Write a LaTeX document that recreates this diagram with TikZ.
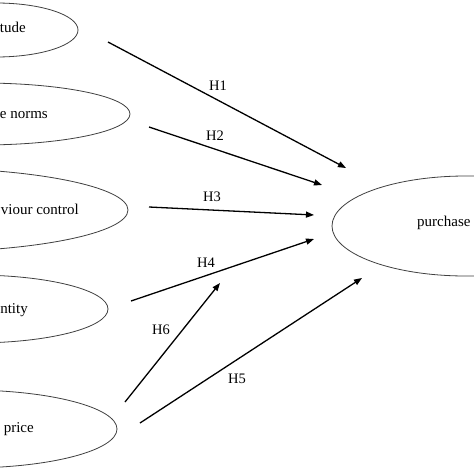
\documentclass[tikz,border=0pt]{standalone}
\usepackage{fontspec}
\setmainfont{Liberation Serif}
\usetikzlibrary{shapes.geometric,arrows.meta}
\begin{document}
\begin{tikzpicture}[x=1pt,y=-1pt,
  oval/.style={draw=black!75,line width=0.8pt},
  lbl/.style={font=\fontsize{15}{17}\selectfont,inner sep=0pt},
  hyp/.style={font=\fontsize{14.5}{17}\selectfont,inner sep=0pt},
  link/.style={line width=1.3pt,-{Triangle[length=8pt,width=6pt]}}]
\useasboundingbox (0,0) rectangle (474,474);
\fill[white] (0,0) rectangle (474,474);
\clip (0,0) rectangle (474,474);
% ellipses
\draw[oval] (-4,30) ellipse [x radius=82, y radius=27];
\draw[oval] (-19,114) ellipse [x radius=149, y radius=31];
\draw[oval] (-81,210) ellipse [x radius=209, y radius=42];
\draw[oval] (-26,309) ellipse [x radius=134, y radius=34];
\draw[oval] (-33,429) ellipse [x radius=150, y radius=39];
\draw[oval] (466,226) ellipse [x radius=134, y radius=50];
% texts (visible parts only)
\node[lbl,anchor=base east] (tatt) at (26,32) {tude};
\node[lbl,anchor=base east] (tsn) at (48,118) {e norms};
\node[lbl,anchor=base east] (tpbc) at (79,214) {viour control};
\node[lbl,anchor=base east] (tid) at (28,313) {ntity};
\node[lbl,anchor=base east] (tpr) at (34,432) {price};
\node[lbl,anchor=base west] (tpi) at (417,226) {purchase};
% arrow ends
\coordinate (s1) at (108,42);  \coordinate (e1) at (346,168);
\coordinate (s2) at (149,127); \coordinate (e2) at (322,185);
\coordinate (s3) at (149,207); \coordinate (e3) at (314,215);
\coordinate (s4) at (131,301); \coordinate (e4) at (314,239);
\coordinate (s6) at (125,402); \coordinate (e6) at (220,283);
\coordinate (s5) at (140,423); \coordinate (e5) at (362,278);
\draw[link] (s1) -- (e1);
\draw[link] (s2) -- (e2);
\draw[link] (s3) -- (e3);
\draw[link] (s4) -- (e4);
\draw[link] (s6) -- (e6);
\draw[link] (s5) -- (e5);
% hypothesis labels
\node[hyp] (h1) at (218,86) {H1};
\node[hyp] (h2) at (215,136) {H2};
\node[hyp] (h3) at (212,197) {H3};
\node[hyp] (h4) at (206,263) {H4};
\node[hyp] (h6) at (161,330) {H6};
\node[hyp] (h5) at (237,379) {H5};
\end{tikzpicture}
\end{document}
